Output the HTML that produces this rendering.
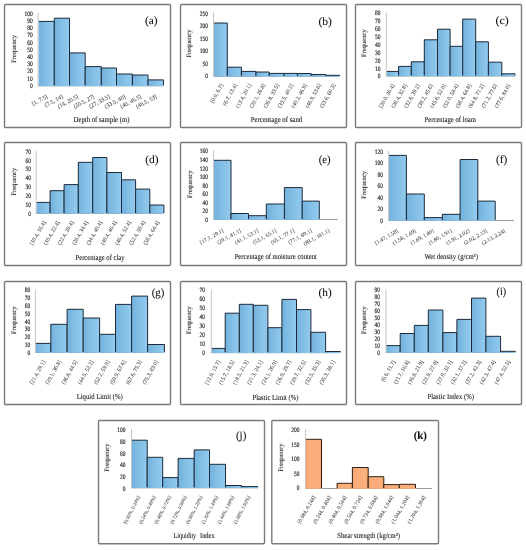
<!DOCTYPE html>
<html><head><meta charset="utf-8"><title>Histograms</title>
<style>
html,body{margin:0;padding:0;background:#fff;}
body{width:526px;height:550px;overflow:hidden;}
svg{display:block;filter:blur(0.3px);}
text{font-family:"Liberation Serif", "Times New Roman", serif;text-rendering:geometricPrecision;}
.yt{font-size:6.7px;fill:#2a2a2a;stroke:#2a2a2a;stroke-width:0.18px;text-anchor:end;}
.xl{fill:#3c3c3c;stroke:#3c3c3c;stroke-width:0.05px;}
.ti{font-size:7.7px;fill:#1a1a1a;stroke:#1a1a1a;stroke-width:0.1px;}
.fr{font-size:6.7px;fill:#333;stroke:#333;stroke-width:0.1px;}
.pl{font-size:11.2px;fill:#111;stroke:#111;stroke-width:0.08px;}
.plb{font-weight:bold;}
</style></head>
<body>
<svg width="526" height="550" viewBox="0 0 526 550">
<rect width="526" height="550" fill="#fff"/>
<defs>
<linearGradient id="gb" x1="0" y1="0" x2="1" y2="0"><stop offset="0" stop-color="#72b2de"/><stop offset="0.5" stop-color="#84bfe5"/><stop offset="0.85" stop-color="#8ec7eb"/><stop offset="1" stop-color="#93cdf0"/></linearGradient>
<linearGradient id="go" x1="0" y1="0" x2="1" y2="0"><stop offset="0" stop-color="#f9a26a"/><stop offset="0.15" stop-color="#fbac7a"/><stop offset="0.85" stop-color="#fbb07e"/><stop offset="1" stop-color="#f8a060"/></linearGradient>
</defs>
<rect x="4.5" y="4.5" width="166" height="123" rx="1" fill="#fff" stroke="#7a7a7a" stroke-width="1.4"/>
<text class="yt" transform="translate(32.8 87.78) scale(0.82 1)">0</text>
<text class="yt" transform="translate(32.8 80.59) scale(0.82 1)">10</text>
<text class="yt" transform="translate(32.8 73.4) scale(0.82 1)">20</text>
<text class="yt" transform="translate(32.8 66.21) scale(0.82 1)">30</text>
<text class="yt" transform="translate(32.8 59.02) scale(0.82 1)">40</text>
<text class="yt" transform="translate(32.8 51.83) scale(0.82 1)">50</text>
<text class="yt" transform="translate(32.8 44.64) scale(0.82 1)">60</text>
<text class="yt" transform="translate(32.8 37.45) scale(0.82 1)">70</text>
<text class="yt" transform="translate(32.8 30.26) scale(0.82 1)">80</text>
<text class="yt" transform="translate(32.8 23.07) scale(0.82 1)">90</text>
<text class="yt" transform="translate(32.8 15.88) scale(0.82 1)">100</text>
<line x1="38.1" y1="85.8" x2="163.5" y2="85.8" stroke="#9a9a9a" stroke-width="1"/>
<rect x="38.6" y="21.4" width="15.7" height="64.7" fill="url(#gb)"/>
<path d="M38.6 21.4H54.3V85.3" fill="none" stroke="#1c2a3a" stroke-width="1"/>
<rect x="54.3" y="18.2" width="15.2" height="67.9" fill="url(#gb)"/>
<path d="M54.3 85.3V18.2H69.5V85.3" fill="none" stroke="#1c2a3a" stroke-width="1"/>
<rect x="69.5" y="52.9" width="15.7" height="33.2" fill="url(#gb)"/>
<path d="M69.5 85.3V52.9H85.2V85.3" fill="none" stroke="#1c2a3a" stroke-width="1"/>
<rect x="85.2" y="66.6" width="16.1" height="19.5" fill="url(#gb)"/>
<path d="M85.2 85.3V66.6H101.3V85.3" fill="none" stroke="#1c2a3a" stroke-width="1"/>
<rect x="101.3" y="68" width="15.2" height="18.1" fill="url(#gb)"/>
<path d="M101.3 85.3V68H116.5V85.3" fill="none" stroke="#1c2a3a" stroke-width="1"/>
<rect x="116.5" y="74" width="15.9" height="12.1" fill="url(#gb)"/>
<path d="M116.5 85.3V74H132.4V85.3" fill="none" stroke="#1c2a3a" stroke-width="1"/>
<rect x="132.4" y="75" width="15.6" height="11.1" fill="url(#gb)"/>
<path d="M132.4 85.3V75H148V85.3" fill="none" stroke="#1c2a3a" stroke-width="1"/>
<rect x="148" y="79.9" width="15.5" height="6.2" fill="url(#gb)"/>
<path d="M148 85.3V79.9H163.5V85.3" fill="none" stroke="#1c2a3a" stroke-width="1"/>
<line x1="38.1" y1="12.5" x2="38.1" y2="86.3" stroke="#c4c4c4" stroke-width="1"/>
<text class="xl" style="font-size:5.8px" text-anchor="end" transform="translate(47.9 97.78) rotate(-28) scale(1.0 1)">[1, 7.5]</text>
<text class="xl" style="font-size:5.8px" text-anchor="end" transform="translate(63.35 97.78) rotate(-28) scale(1.0 1)">(7.5, 14]</text>
<text class="xl" style="font-size:5.8px" text-anchor="end" transform="translate(78.8 97.78) rotate(-28) scale(1.0 1)">(14, 20.5]</text>
<text class="xl" style="font-size:5.8px" text-anchor="end" transform="translate(94.7 97.78) rotate(-28) scale(1.0 1)">(20.5, 27]</text>
<text class="xl" style="font-size:5.8px" text-anchor="end" transform="translate(110.35 97.78) rotate(-28) scale(1.0 1)">(27, 33.5]</text>
<text class="xl" style="font-size:5.8px" text-anchor="end" transform="translate(125.9 97.78) rotate(-28) scale(1.0 1)">(33.5, 40]</text>
<text class="xl" style="font-size:5.8px" text-anchor="end" transform="translate(141.65 97.78) rotate(-28) scale(1.0 1)">(40, 46.5]</text>
<text class="xl" style="font-size:5.8px" text-anchor="end" transform="translate(157.2 97.78) rotate(-28) scale(1.0 1)">(46.5, 53]</text>
<text class="ti" x="73.6" y="122.3" textLength="55.8" lengthAdjust="spacingAndGlyphs">Depth of sample (m)</text>
<text class="fr" text-anchor="middle" transform="translate(15.91 49) rotate(-90)">Frequency</text>
<text class="pl" x="145" y="24.16" textLength="12.6" lengthAdjust="spacingAndGlyphs">(a)</text>
<rect x="180.5" y="4.5" width="166" height="123" rx="1" fill="#fff" stroke="#7a7a7a" stroke-width="1.4"/>
<text class="yt" transform="translate(208.1 78.38) scale(0.82 1)">0</text>
<text class="yt" transform="translate(208.1 65.9) scale(0.82 1)">50</text>
<text class="yt" transform="translate(208.1 53.42) scale(0.82 1)">100</text>
<text class="yt" transform="translate(208.1 40.94) scale(0.82 1)">150</text>
<text class="yt" transform="translate(208.1 28.46) scale(0.82 1)">200</text>
<text class="yt" transform="translate(208.1 15.98) scale(0.82 1)">250</text>
<line x1="213.6" y1="76.3" x2="339.8" y2="76.3" stroke="#9a9a9a" stroke-width="1"/>
<rect x="213.8" y="23" width="13.5" height="53.6" fill="url(#gb)"/>
<path d="M213.8 23H227.3V75.8" fill="none" stroke="#1c2a3a" stroke-width="1"/>
<rect x="227.3" y="67.2" width="14.1" height="9.4" fill="url(#gb)"/>
<path d="M227.3 75.8V67.2H241.4V75.8" fill="none" stroke="#1c2a3a" stroke-width="1"/>
<rect x="241.4" y="71.4" width="14.6" height="5.2" fill="url(#gb)"/>
<path d="M241.4 75.8V71.4H256V75.8" fill="none" stroke="#1c2a3a" stroke-width="1"/>
<rect x="256" y="72" width="13.2" height="4.6" fill="url(#gb)"/>
<path d="M256 75.8V72H269.2V75.8" fill="none" stroke="#1c2a3a" stroke-width="1"/>
<rect x="269.2" y="73.4" width="14.6" height="3.2" fill="url(#gb)"/>
<path d="M269.2 75.8V73.4H283.8V75.8" fill="none" stroke="#1c2a3a" stroke-width="1"/>
<rect x="283.8" y="73.4" width="13.6" height="3.2" fill="url(#gb)"/>
<path d="M283.8 75.8V73.4H297.4V75.8" fill="none" stroke="#1c2a3a" stroke-width="1"/>
<rect x="297.4" y="73.5" width="13.7" height="3.1" fill="url(#gb)"/>
<path d="M297.4 75.8V73.5H311.1V75.8" fill="none" stroke="#1c2a3a" stroke-width="1"/>
<rect x="311.1" y="74.5" width="14.6" height="2.1" fill="url(#gb)"/>
<path d="M311.1 75.8V74.5H325.7V75.8" fill="none" stroke="#1c2a3a" stroke-width="1"/>
<rect x="325.7" y="75.3" width="14.1" height="1.3" fill="url(#gb)"/>
<path d="M325.7 75.8V75.3H339.8V75.8" fill="none" stroke="#1c2a3a" stroke-width="1"/>
<line x1="213.6" y1="12.4" x2="213.6" y2="76.8" stroke="#c4c4c4" stroke-width="1"/>
<text class="xl" style="font-size:5.7px" text-anchor="end" transform="translate(223.44 85.18) rotate(-61) scale(1.0 1)">[0.0, 6.7]</text>
<text class="xl" style="font-size:5.7px" text-anchor="end" transform="translate(237.24 85.18) rotate(-61) scale(1.0 1)">(6.7, 13.4]</text>
<text class="xl" style="font-size:5.7px" text-anchor="end" transform="translate(251.59 85.18) rotate(-61) scale(1.0 1)">(13.4, 20.1]</text>
<text class="xl" style="font-size:5.7px" text-anchor="end" transform="translate(265.49 85.18) rotate(-61) scale(1.0 1)">(20.1, 26.8]</text>
<text class="xl" style="font-size:5.7px" text-anchor="end" transform="translate(279.39 85.18) rotate(-61) scale(1.0 1)">(26.8, 33.5]</text>
<text class="xl" style="font-size:5.7px" text-anchor="end" transform="translate(293.49 85.18) rotate(-61) scale(1.0 1)">(33.5, 40.2]</text>
<text class="xl" style="font-size:5.7px" text-anchor="end" transform="translate(307.14 85.18) rotate(-61) scale(1.0 1)">(40.2, 46.9]</text>
<text class="xl" style="font-size:5.7px" text-anchor="end" transform="translate(321.29 85.18) rotate(-61) scale(1.0 1)">(46.9, 53.6]</text>
<text class="xl" style="font-size:5.7px" text-anchor="end" transform="translate(335.64 85.18) rotate(-61) scale(1.0 1)">(53.6, 60.3]</text>
<text class="ti" x="250.8" y="121.7" textLength="51.4" lengthAdjust="spacingAndGlyphs">Percentage of sand</text>
<text class="fr" text-anchor="middle" transform="translate(191.01 43.5) rotate(-90)">Frequency</text>
<text class="pl" x="318.4" y="24.56" textLength="13.4" lengthAdjust="spacingAndGlyphs">(b)</text>
<rect x="355.5" y="4.5" width="166" height="123" rx="1" fill="#fff" stroke="#7a7a7a" stroke-width="1.4"/>
<text class="yt" transform="translate(380.5 78.38) scale(0.82 1)">0</text>
<text class="yt" transform="translate(380.5 70.5) scale(0.82 1)">10</text>
<text class="yt" transform="translate(380.5 62.63) scale(0.82 1)">20</text>
<text class="yt" transform="translate(380.5 54.75) scale(0.82 1)">30</text>
<text class="yt" transform="translate(380.5 46.88) scale(0.82 1)">40</text>
<text class="yt" transform="translate(380.5 39) scale(0.82 1)">50</text>
<text class="yt" transform="translate(380.5 31.13) scale(0.82 1)">60</text>
<text class="yt" transform="translate(380.5 23.25) scale(0.82 1)">70</text>
<text class="yt" transform="translate(380.5 15.38) scale(0.82 1)">80</text>
<line x1="386.3" y1="76" x2="515" y2="76" stroke="#9a9a9a" stroke-width="1"/>
<rect x="386.5" y="71.4" width="12.1" height="4.9" fill="url(#gb)"/>
<path d="M386.5 71.4H398.6V75.5" fill="none" stroke="#1c2a3a" stroke-width="1"/>
<rect x="398.6" y="66.4" width="12.7" height="9.9" fill="url(#gb)"/>
<path d="M398.6 75.5V66.4H411.3V75.5" fill="none" stroke="#1c2a3a" stroke-width="1"/>
<rect x="411.3" y="61.8" width="13" height="14.5" fill="url(#gb)"/>
<path d="M411.3 75.5V61.8H424.3V75.5" fill="none" stroke="#1c2a3a" stroke-width="1"/>
<rect x="424.3" y="39.8" width="13.2" height="36.5" fill="url(#gb)"/>
<path d="M424.3 75.5V39.8H437.5V75.5" fill="none" stroke="#1c2a3a" stroke-width="1"/>
<rect x="437.5" y="29.2" width="12.6" height="47.1" fill="url(#gb)"/>
<path d="M437.5 75.5V29.2H450.1V75.5" fill="none" stroke="#1c2a3a" stroke-width="1"/>
<rect x="450.1" y="46.3" width="12.6" height="30" fill="url(#gb)"/>
<path d="M450.1 75.5V46.3H462.7V75.5" fill="none" stroke="#1c2a3a" stroke-width="1"/>
<rect x="462.7" y="19.1" width="13" height="57.2" fill="url(#gb)"/>
<path d="M462.7 75.5V19.1H475.7V75.5" fill="none" stroke="#1c2a3a" stroke-width="1"/>
<rect x="475.7" y="41.8" width="12.7" height="34.5" fill="url(#gb)"/>
<path d="M475.7 75.5V41.8H488.4V75.5" fill="none" stroke="#1c2a3a" stroke-width="1"/>
<rect x="488.4" y="62.2" width="13.4" height="14.1" fill="url(#gb)"/>
<path d="M488.4 75.5V62.2H501.8V75.5" fill="none" stroke="#1c2a3a" stroke-width="1"/>
<rect x="501.8" y="73.8" width="13.2" height="2.5" fill="url(#gb)"/>
<path d="M501.8 75.5V73.8H515V75.5" fill="none" stroke="#1c2a3a" stroke-width="1"/>
<line x1="386.3" y1="12.8" x2="386.3" y2="76.5" stroke="#c4c4c4" stroke-width="1"/>
<text class="xl" style="font-size:5.7px" text-anchor="end" transform="translate(394.74 85.28) rotate(-61) scale(1.0 1)">[20.0, 26.4]</text>
<text class="xl" style="font-size:5.7px" text-anchor="end" transform="translate(407.14 85.28) rotate(-61) scale(1.0 1)">(26.4, 32.8]</text>
<text class="xl" style="font-size:5.7px" text-anchor="end" transform="translate(419.99 85.28) rotate(-61) scale(1.0 1)">(32.8, 39.2]</text>
<text class="xl" style="font-size:5.7px" text-anchor="end" transform="translate(433.09 85.28) rotate(-61) scale(1.0 1)">(39.2, 45.6]</text>
<text class="xl" style="font-size:5.7px" text-anchor="end" transform="translate(445.99 85.28) rotate(-61) scale(1.0 1)">(45.6, 52.0]</text>
<text class="xl" style="font-size:5.7px" text-anchor="end" transform="translate(458.59 85.28) rotate(-61) scale(1.0 1)">(52.0, 58.4]</text>
<text class="xl" style="font-size:5.7px" text-anchor="end" transform="translate(471.39 85.28) rotate(-61) scale(1.0 1)">(58.4, 64.8]</text>
<text class="xl" style="font-size:5.7px" text-anchor="end" transform="translate(484.24 85.28) rotate(-61) scale(1.0 1)">(64.8, 71.2]</text>
<text class="xl" style="font-size:5.7px" text-anchor="end" transform="translate(497.29 85.28) rotate(-61) scale(1.0 1)">(71.2, 77.6]</text>
<text class="xl" style="font-size:5.7px" text-anchor="end" transform="translate(510.59 85.28) rotate(-61) scale(1.0 1)">(77.6, 84.0]</text>
<text class="ti" x="424.6" y="122.3" textLength="51.3" lengthAdjust="spacingAndGlyphs">Percentage of loam</text>
<text class="fr" text-anchor="middle" transform="translate(366.01 43.2) rotate(-90)">Frequency</text>
<text class="pl" x="495.6" y="24.36" textLength="13.2" lengthAdjust="spacingAndGlyphs">(c)</text>
<rect x="4.5" y="142.5" width="166" height="123" rx="1" fill="#fff" stroke="#7a7a7a" stroke-width="1.4"/>
<text class="yt" transform="translate(31.1 215.88) scale(0.82 1)">0</text>
<text class="yt" transform="translate(31.1 206.99) scale(0.82 1)">10</text>
<text class="yt" transform="translate(31.1 198.11) scale(0.82 1)">20</text>
<text class="yt" transform="translate(31.1 189.22) scale(0.82 1)">30</text>
<text class="yt" transform="translate(31.1 180.34) scale(0.82 1)">40</text>
<text class="yt" transform="translate(31.1 171.45) scale(0.82 1)">50</text>
<text class="yt" transform="translate(31.1 162.56) scale(0.82 1)">60</text>
<text class="yt" transform="translate(31.1 153.68) scale(0.82 1)">70</text>
<line x1="36.2" y1="213.5" x2="163.9" y2="213.5" stroke="#9a9a9a" stroke-width="1"/>
<rect x="36.4" y="202.4" width="13.7" height="11.4" fill="url(#gb)"/>
<path d="M36.4 202.4H50.1V213" fill="none" stroke="#1c2a3a" stroke-width="1"/>
<rect x="50.1" y="190.7" width="14" height="23.1" fill="url(#gb)"/>
<path d="M50.1 213V190.7H64.1V213" fill="none" stroke="#1c2a3a" stroke-width="1"/>
<rect x="64.1" y="184.6" width="14.2" height="29.2" fill="url(#gb)"/>
<path d="M64.1 213V184.6H78.3V213" fill="none" stroke="#1c2a3a" stroke-width="1"/>
<rect x="78.3" y="162.3" width="14.4" height="51.5" fill="url(#gb)"/>
<path d="M78.3 213V162.3H92.7V213" fill="none" stroke="#1c2a3a" stroke-width="1"/>
<rect x="92.7" y="157.5" width="14.2" height="56.3" fill="url(#gb)"/>
<path d="M92.7 213V157.5H106.9V213" fill="none" stroke="#1c2a3a" stroke-width="1"/>
<rect x="106.9" y="172.5" width="14.6" height="41.3" fill="url(#gb)"/>
<path d="M106.9 213V172.5H121.5V213" fill="none" stroke="#1c2a3a" stroke-width="1"/>
<rect x="121.5" y="179.8" width="14.1" height="34" fill="url(#gb)"/>
<path d="M121.5 213V179.8H135.6V213" fill="none" stroke="#1c2a3a" stroke-width="1"/>
<rect x="135.6" y="189.1" width="14.2" height="24.7" fill="url(#gb)"/>
<path d="M135.6 213V189.1H149.8V213" fill="none" stroke="#1c2a3a" stroke-width="1"/>
<rect x="149.8" y="205" width="14.1" height="8.8" fill="url(#gb)"/>
<path d="M149.8 213V205H163.9V213" fill="none" stroke="#1c2a3a" stroke-width="1"/>
<line x1="36.2" y1="151.1" x2="36.2" y2="214" stroke="#c4c4c4" stroke-width="1"/>
<text class="xl" style="font-size:5.7px" text-anchor="end" transform="translate(45.91 222.44) rotate(-60) scale(1.0 1)">[10.4, 16.4]</text>
<text class="xl" style="font-size:5.7px" text-anchor="end" transform="translate(59.76 222.44) rotate(-60) scale(1.0 1)">(16.4, 22.4]</text>
<text class="xl" style="font-size:5.7px" text-anchor="end" transform="translate(73.86 222.44) rotate(-60) scale(1.0 1)">(22.4, 28.4]</text>
<text class="xl" style="font-size:5.7px" text-anchor="end" transform="translate(88.16 222.44) rotate(-60) scale(1.0 1)">(28.4, 34.4]</text>
<text class="xl" style="font-size:5.7px" text-anchor="end" transform="translate(102.46 222.44) rotate(-60) scale(1.0 1)">(34.4, 40.4]</text>
<text class="xl" style="font-size:5.7px" text-anchor="end" transform="translate(116.86 222.44) rotate(-60) scale(1.0 1)">(40.4, 46.4]</text>
<text class="xl" style="font-size:5.7px" text-anchor="end" transform="translate(131.21 222.44) rotate(-60) scale(1.0 1)">(46.4, 52.4]</text>
<text class="xl" style="font-size:5.7px" text-anchor="end" transform="translate(145.36 222.44) rotate(-60) scale(1.0 1)">(52.4, 58.4]</text>
<text class="xl" style="font-size:5.7px" text-anchor="end" transform="translate(159.51 222.44) rotate(-60) scale(1.0 1)">(58.4, 64.4]</text>
<text class="ti" x="75.5" y="259.8" textLength="49.1" lengthAdjust="spacingAndGlyphs">Percentage of clay</text>
<text class="fr" text-anchor="middle" transform="translate(15.51 181.7) rotate(-90)">Frequency</text>
<text class="pl" x="145.3" y="162.66" textLength="13.3" lengthAdjust="spacingAndGlyphs">(d)</text>
<rect x="180.5" y="142.5" width="166" height="123" rx="1" fill="#fff" stroke="#7a7a7a" stroke-width="1.4"/>
<text class="yt" transform="translate(208.1 221.68) scale(0.82 1)">0</text>
<text class="yt" transform="translate(208.1 213.15) scale(0.82 1)">20</text>
<text class="yt" transform="translate(208.1 204.63) scale(0.82 1)">40</text>
<text class="yt" transform="translate(208.1 196.1) scale(0.82 1)">60</text>
<text class="yt" transform="translate(208.1 187.58) scale(0.82 1)">80</text>
<text class="yt" transform="translate(208.1 179.05) scale(0.82 1)">100</text>
<text class="yt" transform="translate(208.1 170.53) scale(0.82 1)">120</text>
<text class="yt" transform="translate(208.1 162) scale(0.82 1)">140</text>
<text class="yt" transform="translate(208.1 153.48) scale(0.82 1)">160</text>
<line x1="213.6" y1="219.5" x2="337.7" y2="219.5" stroke="#9a9a9a" stroke-width="1"/>
<rect x="213.8" y="160.3" width="17.2" height="59.5" fill="url(#gb)"/>
<path d="M213.8 160.3H231V219" fill="none" stroke="#1c2a3a" stroke-width="1"/>
<rect x="231" y="213.5" width="17.5" height="6.3" fill="url(#gb)"/>
<path d="M231 219V213.5H248.5V219" fill="none" stroke="#1c2a3a" stroke-width="1"/>
<rect x="248.5" y="215.7" width="17.8" height="4.1" fill="url(#gb)"/>
<path d="M248.5 219V215.7H266.3V219" fill="none" stroke="#1c2a3a" stroke-width="1"/>
<rect x="266.3" y="204" width="18.1" height="15.8" fill="url(#gb)"/>
<path d="M266.3 219V204H284.4V219" fill="none" stroke="#1c2a3a" stroke-width="1"/>
<rect x="284.4" y="187.6" width="17.8" height="32.2" fill="url(#gb)"/>
<path d="M284.4 219V187.6H302.2V219" fill="none" stroke="#1c2a3a" stroke-width="1"/>
<rect x="302.2" y="201.1" width="17.1" height="18.7" fill="url(#gb)"/>
<path d="M302.2 219V201.1H319.3V219" fill="none" stroke="#1c2a3a" stroke-width="1"/>
<line x1="213.6" y1="150.4" x2="213.6" y2="220" stroke="#c4c4c4" stroke-width="1"/>
<text class="xl" style="font-size:5.6px" text-anchor="end" transform="translate(223.95 231.73) rotate(-29) scale(1.0 1)">[17.1, 29.1]</text>
<text class="xl" style="font-size:5.6px" text-anchor="end" transform="translate(241.3 231.73) rotate(-29) scale(1.0 1)">(29.1, 41.1]</text>
<text class="xl" style="font-size:5.6px" text-anchor="end" transform="translate(258.95 231.73) rotate(-29) scale(1.0 1)">(41.1, 53.1]</text>
<text class="xl" style="font-size:5.6px" text-anchor="end" transform="translate(276.9 231.73) rotate(-29) scale(1.0 1)">(53.1, 65.1]</text>
<text class="xl" style="font-size:5.6px" text-anchor="end" transform="translate(294.85 231.73) rotate(-29) scale(1.0 1)">(65.1, 77.1]</text>
<text class="xl" style="font-size:5.6px" text-anchor="end" transform="translate(312.3 231.73) rotate(-29) scale(1.0 1)">(77.1, 89.1]</text>
<text class="xl" style="font-size:5.6px" text-anchor="end" transform="translate(330.05 231.73) rotate(-29) scale(1.0 1)">(89.1, 101.1]</text>
<text class="ti" x="234.7" y="259.3" textLength="82.2" lengthAdjust="spacingAndGlyphs">Percentage of moisture content</text>
<text class="fr" text-anchor="middle" transform="translate(191.51 184.2) rotate(-90)">Frequency</text>
<text class="pl" x="318.7" y="163.16" textLength="12" lengthAdjust="spacingAndGlyphs">(e)</text>
<rect x="355.5" y="142.5" width="166" height="123" rx="1" fill="#fff" stroke="#7a7a7a" stroke-width="1.4"/>
<text class="yt" transform="translate(383.1 222.68) scale(0.82 1)">0</text>
<text class="yt" transform="translate(383.1 211.19) scale(0.82 1)">20</text>
<text class="yt" transform="translate(383.1 199.71) scale(0.82 1)">40</text>
<text class="yt" transform="translate(383.1 188.23) scale(0.82 1)">60</text>
<text class="yt" transform="translate(383.1 176.74) scale(0.82 1)">80</text>
<text class="yt" transform="translate(383.1 165.26) scale(0.82 1)">100</text>
<text class="yt" transform="translate(383.1 153.78) scale(0.82 1)">120</text>
<line x1="388.6" y1="220.5" x2="514" y2="220.5" stroke="#9a9a9a" stroke-width="1"/>
<rect x="388.8" y="155.4" width="17.6" height="65.4" fill="url(#gb)"/>
<path d="M388.8 155.4H406.4V220" fill="none" stroke="#1c2a3a" stroke-width="1"/>
<rect x="406.4" y="194" width="17.9" height="26.8" fill="url(#gb)"/>
<path d="M406.4 220V194H424.3V220" fill="none" stroke="#1c2a3a" stroke-width="1"/>
<rect x="424.3" y="217.6" width="18" height="3.2" fill="url(#gb)"/>
<path d="M424.3 220V217.6H442.3V220" fill="none" stroke="#1c2a3a" stroke-width="1"/>
<rect x="442.3" y="214.3" width="17.8" height="6.5" fill="url(#gb)"/>
<path d="M442.3 220V214.3H460.1V220" fill="none" stroke="#1c2a3a" stroke-width="1"/>
<rect x="460.1" y="159.5" width="17.7" height="61.3" fill="url(#gb)"/>
<path d="M460.1 220V159.5H477.8V220" fill="none" stroke="#1c2a3a" stroke-width="1"/>
<rect x="477.8" y="201.1" width="17.4" height="19.7" fill="url(#gb)"/>
<path d="M477.8 220V201.1H495.2V220" fill="none" stroke="#1c2a3a" stroke-width="1"/>
<line x1="388.6" y1="150.8" x2="388.6" y2="221" stroke="#c4c4c4" stroke-width="1"/>
<text class="xl" style="font-size:5.6px" text-anchor="end" transform="translate(398.7 231.9) rotate(-30) scale(1.0 1)">[1.47, 1.58]</text>
<text class="xl" style="font-size:5.6px" text-anchor="end" transform="translate(416.45 231.9) rotate(-30) scale(1.0 1)">(1.58, 1.69]</text>
<text class="xl" style="font-size:5.6px" text-anchor="end" transform="translate(434.4 231.9) rotate(-30) scale(1.0 1)">(1.69, 1.80]</text>
<text class="xl" style="font-size:5.6px" text-anchor="end" transform="translate(452.3 231.9) rotate(-30) scale(1.0 1)">(1.80, 1.91]</text>
<text class="xl" style="font-size:5.6px" text-anchor="end" transform="translate(470.05 231.9) rotate(-30) scale(1.0 1)">(1.91, 2.02]</text>
<text class="xl" style="font-size:5.6px" text-anchor="end" transform="translate(487.6 231.9) rotate(-30) scale(1.0 1)">(2.02, 2.13]</text>
<text class="xl" style="font-size:5.6px" text-anchor="end" transform="translate(505.7 231.9) rotate(-30) scale(1.0 1)">(2.13, 2.24]</text>
<text class="ti" x="424.4" y="259" textLength="53.5" lengthAdjust="spacingAndGlyphs">Wet density  (g/cm³)</text>
<text class="fr" text-anchor="middle" transform="translate(366.01 184.9) rotate(-90)">Frequency</text>
<text class="pl" x="496" y="162.76" textLength="11.3" lengthAdjust="spacingAndGlyphs">(f)</text>
<rect x="4.5" y="281.5" width="166" height="123" rx="1" fill="#fff" stroke="#7a7a7a" stroke-width="1.4"/>
<text class="yt" transform="translate(30.2 354.88) scale(0.82 1)">0</text>
<text class="yt" transform="translate(30.2 347.07) scale(0.82 1)">10</text>
<text class="yt" transform="translate(30.2 339.25) scale(0.82 1)">20</text>
<text class="yt" transform="translate(30.2 331.44) scale(0.82 1)">30</text>
<text class="yt" transform="translate(30.2 323.63) scale(0.82 1)">40</text>
<text class="yt" transform="translate(30.2 315.82) scale(0.82 1)">50</text>
<text class="yt" transform="translate(30.2 308) scale(0.82 1)">60</text>
<text class="yt" transform="translate(30.2 300.19) scale(0.82 1)">70</text>
<text class="yt" transform="translate(30.2 292.38) scale(0.82 1)">80</text>
<line x1="35.4" y1="352.5" x2="164.4" y2="352.5" stroke="#9a9a9a" stroke-width="1"/>
<rect x="35.6" y="343.4" width="15.2" height="9.4" fill="url(#gb)"/>
<path d="M35.6 343.4H50.8V352" fill="none" stroke="#1c2a3a" stroke-width="1"/>
<rect x="50.8" y="324.3" width="16.3" height="28.5" fill="url(#gb)"/>
<path d="M50.8 352V324.3H67.1V352" fill="none" stroke="#1c2a3a" stroke-width="1"/>
<rect x="67.1" y="309.3" width="16.1" height="43.5" fill="url(#gb)"/>
<path d="M67.1 352V309.3H83.2V352" fill="none" stroke="#1c2a3a" stroke-width="1"/>
<rect x="83.2" y="318" width="16.4" height="34.8" fill="url(#gb)"/>
<path d="M83.2 352V318H99.6V352" fill="none" stroke="#1c2a3a" stroke-width="1"/>
<rect x="99.6" y="334.3" width="15.9" height="18.5" fill="url(#gb)"/>
<path d="M99.6 352V334.3H115.5V352" fill="none" stroke="#1c2a3a" stroke-width="1"/>
<rect x="115.5" y="304.4" width="16.1" height="48.4" fill="url(#gb)"/>
<path d="M115.5 352V304.4H131.6V352" fill="none" stroke="#1c2a3a" stroke-width="1"/>
<rect x="131.6" y="296.1" width="16" height="56.7" fill="url(#gb)"/>
<path d="M131.6 352V296.1H147.6V352" fill="none" stroke="#1c2a3a" stroke-width="1"/>
<rect x="147.6" y="344.5" width="16.8" height="8.3" fill="url(#gb)"/>
<path d="M147.6 352V344.5H164.4V352" fill="none" stroke="#1c2a3a" stroke-width="1"/>
<line x1="35.4" y1="289.8" x2="35.4" y2="353" stroke="#c4c4c4" stroke-width="1"/>
<text class="xl" style="font-size:5.7px" text-anchor="end" transform="translate(45.49 361.58) rotate(-61) scale(1.0 1)">[21.4, 29.1]</text>
<text class="xl" style="font-size:5.7px" text-anchor="end" transform="translate(61.24 361.58) rotate(-61) scale(1.0 1)">(29.1, 36.8]</text>
<text class="xl" style="font-size:5.7px" text-anchor="end" transform="translate(77.44 361.58) rotate(-61) scale(1.0 1)">(36.8, 44.5]</text>
<text class="xl" style="font-size:5.7px" text-anchor="end" transform="translate(93.69 361.58) rotate(-61) scale(1.0 1)">(44.5, 52.2]</text>
<text class="xl" style="font-size:5.7px" text-anchor="end" transform="translate(109.84 361.58) rotate(-61) scale(1.0 1)">(52.2, 59.9]</text>
<text class="xl" style="font-size:5.7px" text-anchor="end" transform="translate(125.84 361.58) rotate(-61) scale(1.0 1)">(59.9, 67.6]</text>
<text class="xl" style="font-size:5.7px" text-anchor="end" transform="translate(141.89 361.58) rotate(-61) scale(1.0 1)">(67.6, 75.3]</text>
<text class="xl" style="font-size:5.7px" text-anchor="end" transform="translate(158.29 361.58) rotate(-61) scale(1.0 1)">(75.3, 83.0]</text>
<text class="ti" x="76.7" y="399.3" textLength="46" lengthAdjust="spacingAndGlyphs">Liquid  Limit  (%)</text>
<text class="fr" text-anchor="middle" transform="translate(15.51 320.2) rotate(-90)">Frequency</text>
<text class="pl" x="151.7" y="296.16" textLength="12.7" lengthAdjust="spacingAndGlyphs">(g)</text>
<rect x="180.5" y="281.5" width="166" height="123" rx="1" fill="#fff" stroke="#7a7a7a" stroke-width="1.4"/>
<text class="yt" transform="translate(205.1 355.18) scale(0.82 1)">0</text>
<text class="yt" transform="translate(205.1 346.22) scale(0.82 1)">10</text>
<text class="yt" transform="translate(205.1 337.26) scale(0.82 1)">20</text>
<text class="yt" transform="translate(205.1 328.31) scale(0.82 1)">30</text>
<text class="yt" transform="translate(205.1 319.35) scale(0.82 1)">40</text>
<text class="yt" transform="translate(205.1 310.39) scale(0.82 1)">50</text>
<text class="yt" transform="translate(205.1 301.44) scale(0.82 1)">60</text>
<text class="yt" transform="translate(205.1 292.48) scale(0.82 1)">70</text>
<line x1="211.3" y1="352.7" x2="340.4" y2="352.7" stroke="#9a9a9a" stroke-width="1"/>
<rect x="211.5" y="348.4" width="13.7" height="4.6" fill="url(#gb)"/>
<path d="M211.5 348.4H225.2V352.2" fill="none" stroke="#1c2a3a" stroke-width="1"/>
<rect x="225.2" y="313.2" width="14.1" height="39.8" fill="url(#gb)"/>
<path d="M225.2 352.2V313.2H239.3V352.2" fill="none" stroke="#1c2a3a" stroke-width="1"/>
<rect x="239.3" y="304.3" width="14" height="48.7" fill="url(#gb)"/>
<path d="M239.3 352.2V304.3H253.3V352.2" fill="none" stroke="#1c2a3a" stroke-width="1"/>
<rect x="253.3" y="305.3" width="14.6" height="47.7" fill="url(#gb)"/>
<path d="M253.3 352.2V305.3H267.9V352.2" fill="none" stroke="#1c2a3a" stroke-width="1"/>
<rect x="267.9" y="327.7" width="14" height="25.3" fill="url(#gb)"/>
<path d="M267.9 352.2V327.7H281.9V352.2" fill="none" stroke="#1c2a3a" stroke-width="1"/>
<rect x="281.9" y="299.4" width="14.6" height="53.6" fill="url(#gb)"/>
<path d="M281.9 352.2V299.4H296.5V352.2" fill="none" stroke="#1c2a3a" stroke-width="1"/>
<rect x="296.5" y="309.6" width="14.4" height="43.4" fill="url(#gb)"/>
<path d="M296.5 352.2V309.6H310.9V352.2" fill="none" stroke="#1c2a3a" stroke-width="1"/>
<rect x="310.9" y="332.3" width="14.7" height="20.7" fill="url(#gb)"/>
<path d="M310.9 352.2V332.3H325.6V352.2" fill="none" stroke="#1c2a3a" stroke-width="1"/>
<rect x="325.6" y="351.5" width="14.8" height="1.5" fill="url(#gb)"/>
<path d="M325.6 352.2V351.5H340.4V352.2" fill="none" stroke="#1c2a3a" stroke-width="1"/>
<line x1="211.3" y1="289.8" x2="211.3" y2="353.2" stroke="#c4c4c4" stroke-width="1"/>
<text class="xl" style="font-size:5.7px" text-anchor="end" transform="translate(220.64 361.68) rotate(-61) scale(1.0 1)">[12.9, 15.7]</text>
<text class="xl" style="font-size:5.7px" text-anchor="end" transform="translate(234.54 361.68) rotate(-61) scale(1.0 1)">(15.7, 18.5]</text>
<text class="xl" style="font-size:5.7px" text-anchor="end" transform="translate(248.59 361.68) rotate(-61) scale(1.0 1)">(18.5, 21.3]</text>
<text class="xl" style="font-size:5.7px" text-anchor="end" transform="translate(262.89 361.68) rotate(-61) scale(1.0 1)">(21.3, 24.1]</text>
<text class="xl" style="font-size:5.7px" text-anchor="end" transform="translate(277.19 361.68) rotate(-61) scale(1.0 1)">(24.1, 26.9]</text>
<text class="xl" style="font-size:5.7px" text-anchor="end" transform="translate(291.49 361.68) rotate(-61) scale(1.0 1)">(26.9, 29.7]</text>
<text class="xl" style="font-size:5.7px" text-anchor="end" transform="translate(305.99 361.68) rotate(-61) scale(1.0 1)">(29.7, 32.5]</text>
<text class="xl" style="font-size:5.7px" text-anchor="end" transform="translate(320.54 361.68) rotate(-61) scale(1.0 1)">(32.5, 35.3]</text>
<text class="xl" style="font-size:5.7px" text-anchor="end" transform="translate(335.29 361.68) rotate(-61) scale(1.0 1)">(35.3, 38.1]</text>
<text class="ti" x="252.5" y="399.5" textLength="46.1" lengthAdjust="spacingAndGlyphs">Plastic Limit  (%)</text>
<text class="fr" text-anchor="middle" transform="translate(191.01 320.2) rotate(-90)">Frequency</text>
<text class="pl" x="318.6" y="295.86" textLength="13.1" lengthAdjust="spacingAndGlyphs">(h)</text>
<rect x="355.5" y="281.5" width="166" height="123" rx="1" fill="#fff" stroke="#7a7a7a" stroke-width="1.4"/>
<text class="yt" transform="translate(380.1 354.88) scale(0.82 1)">0</text>
<text class="yt" transform="translate(380.1 347.91) scale(0.82 1)">10</text>
<text class="yt" transform="translate(380.1 340.94) scale(0.82 1)">20</text>
<text class="yt" transform="translate(380.1 333.98) scale(0.82 1)">30</text>
<text class="yt" transform="translate(380.1 327.01) scale(0.82 1)">40</text>
<text class="yt" transform="translate(380.1 320.04) scale(0.82 1)">50</text>
<text class="yt" transform="translate(380.1 313.08) scale(0.82 1)">60</text>
<text class="yt" transform="translate(380.1 306.11) scale(0.82 1)">70</text>
<text class="yt" transform="translate(380.1 299.14) scale(0.82 1)">80</text>
<text class="yt" transform="translate(380.1 292.18) scale(0.82 1)">90</text>
<line x1="386" y1="352.5" x2="515.4" y2="352.5" stroke="#9a9a9a" stroke-width="1"/>
<rect x="386.2" y="345.6" width="14" height="7.2" fill="url(#gb)"/>
<path d="M386.2 345.6H400.2V352" fill="none" stroke="#1c2a3a" stroke-width="1"/>
<rect x="400.2" y="333.5" width="14.1" height="19.3" fill="url(#gb)"/>
<path d="M400.2 352V333.5H414.3V352" fill="none" stroke="#1c2a3a" stroke-width="1"/>
<rect x="414.3" y="325.4" width="14" height="27.4" fill="url(#gb)"/>
<path d="M414.3 352V325.4H428.3V352" fill="none" stroke="#1c2a3a" stroke-width="1"/>
<rect x="428.3" y="310" width="14.6" height="42.8" fill="url(#gb)"/>
<path d="M428.3 352V310H442.9V352" fill="none" stroke="#1c2a3a" stroke-width="1"/>
<rect x="442.9" y="332.6" width="14" height="20.2" fill="url(#gb)"/>
<path d="M442.9 352V332.6H456.9V352" fill="none" stroke="#1c2a3a" stroke-width="1"/>
<rect x="456.9" y="319.4" width="14.6" height="33.4" fill="url(#gb)"/>
<path d="M456.9 352V319.4H471.5V352" fill="none" stroke="#1c2a3a" stroke-width="1"/>
<rect x="471.5" y="298.1" width="14.4" height="54.7" fill="url(#gb)"/>
<path d="M471.5 352V298.1H485.9V352" fill="none" stroke="#1c2a3a" stroke-width="1"/>
<rect x="485.9" y="336.3" width="14.7" height="16.5" fill="url(#gb)"/>
<path d="M485.9 352V336.3H500.6V352" fill="none" stroke="#1c2a3a" stroke-width="1"/>
<rect x="500.6" y="351.3" width="14.8" height="1.5" fill="url(#gb)"/>
<path d="M500.6 352V351.3H515.4V352" fill="none" stroke="#1c2a3a" stroke-width="1"/>
<line x1="386" y1="289.4" x2="386" y2="353" stroke="#c4c4c4" stroke-width="1"/>
<text class="xl" style="font-size:5.7px" text-anchor="end" transform="translate(395.66 361.74) rotate(-60) scale(1.0 1)">[6.6, 11.7]</text>
<text class="xl" style="font-size:5.7px" text-anchor="end" transform="translate(409.71 361.74) rotate(-60) scale(1.0 1)">(11.7, 16.8]</text>
<text class="xl" style="font-size:5.7px" text-anchor="end" transform="translate(423.76 361.74) rotate(-60) scale(1.0 1)">(16.8, 21.9]</text>
<text class="xl" style="font-size:5.7px" text-anchor="end" transform="translate(438.06 361.74) rotate(-60) scale(1.0 1)">(21.9, 27.0]</text>
<text class="xl" style="font-size:5.7px" text-anchor="end" transform="translate(452.36 361.74) rotate(-60) scale(1.0 1)">(27.0, 32.1]</text>
<text class="xl" style="font-size:5.7px" text-anchor="end" transform="translate(466.66 361.74) rotate(-60) scale(1.0 1)">(32.1, 37.2]</text>
<text class="xl" style="font-size:5.7px" text-anchor="end" transform="translate(481.16 361.74) rotate(-60) scale(1.0 1)">(37.2, 42.3]</text>
<text class="xl" style="font-size:5.7px" text-anchor="end" transform="translate(495.71 361.74) rotate(-60) scale(1.0 1)">(42.3, 47.4]</text>
<text class="xl" style="font-size:5.7px" text-anchor="end" transform="translate(510.46 361.74) rotate(-60) scale(1.0 1)">(47.4, 52.5]</text>
<text class="ti" x="427.5" y="398.7" textLength="46.5" lengthAdjust="spacingAndGlyphs">Plastic Index (%)</text>
<text class="fr" text-anchor="middle" transform="translate(366.01 320.2) rotate(-90)">Frequency</text>
<text class="pl" x="496.5" y="295.36" textLength="9.6" lengthAdjust="spacingAndGlyphs">(i)</text>
<rect x="98.5" y="420.5" width="166" height="123.3" rx="1" fill="#fff" stroke="#7a7a7a" stroke-width="1.4"/>
<text class="yt" transform="translate(125.6 490.58) scale(0.82 1)">0</text>
<text class="yt" transform="translate(125.6 478.92) scale(0.82 1)">20</text>
<text class="yt" transform="translate(125.6 467.26) scale(0.82 1)">40</text>
<text class="yt" transform="translate(125.6 455.6) scale(0.82 1)">60</text>
<text class="yt" transform="translate(125.6 443.94) scale(0.82 1)">80</text>
<text class="yt" transform="translate(125.6 432.28) scale(0.82 1)">100</text>
<line x1="131.5" y1="487.8" x2="257.8" y2="487.8" stroke="#9a9a9a" stroke-width="1"/>
<rect x="131.7" y="440.2" width="15.5" height="47.9" fill="url(#gb)"/>
<path d="M131.7 440.2H147.2V487.3" fill="none" stroke="#1c2a3a" stroke-width="1"/>
<rect x="147.2" y="457.3" width="15.5" height="30.8" fill="url(#gb)"/>
<path d="M147.2 487.3V457.3H162.7V487.3" fill="none" stroke="#1c2a3a" stroke-width="1"/>
<rect x="162.7" y="477.6" width="15.4" height="10.5" fill="url(#gb)"/>
<path d="M162.7 487.3V477.6H178.1V487.3" fill="none" stroke="#1c2a3a" stroke-width="1"/>
<rect x="178.1" y="458.4" width="16.1" height="29.7" fill="url(#gb)"/>
<path d="M178.1 487.3V458.4H194.2V487.3" fill="none" stroke="#1c2a3a" stroke-width="1"/>
<rect x="194.2" y="449.9" width="15.3" height="38.2" fill="url(#gb)"/>
<path d="M194.2 487.3V449.9H209.5V487.3" fill="none" stroke="#1c2a3a" stroke-width="1"/>
<rect x="209.5" y="464.3" width="16" height="23.8" fill="url(#gb)"/>
<path d="M209.5 487.3V464.3H225.5V487.3" fill="none" stroke="#1c2a3a" stroke-width="1"/>
<rect x="225.5" y="485.5" width="15.9" height="2.6" fill="url(#gb)"/>
<path d="M225.5 487.3V485.5H241.4V487.3" fill="none" stroke="#1c2a3a" stroke-width="1"/>
<rect x="241.4" y="486.6" width="16.4" height="1.5" fill="url(#gb)"/>
<path d="M241.4 487.3V486.6H257.8V487.3" fill="none" stroke="#1c2a3a" stroke-width="1"/>
<line x1="131.5" y1="429.1" x2="131.5" y2="488.3" stroke="#c4c4c4" stroke-width="1"/>
<text class="xl" style="font-size:4.9px" text-anchor="end" transform="translate(140.22 496.71) rotate(-63) scale(1.0 1)">[0.00%, 0.24%]</text>
<text class="xl" style="font-size:4.9px" text-anchor="end" transform="translate(155.72 496.71) rotate(-63) scale(1.0 1)">(0.24%, 0.48%]</text>
<text class="xl" style="font-size:4.9px" text-anchor="end" transform="translate(171.17 496.71) rotate(-63) scale(1.0 1)">(0.48%, 0.72%]</text>
<text class="xl" style="font-size:4.9px" text-anchor="end" transform="translate(186.92 496.71) rotate(-63) scale(1.0 1)">(0.72%, 0.96%]</text>
<text class="xl" style="font-size:4.9px" text-anchor="end" transform="translate(202.62 496.71) rotate(-63) scale(1.0 1)">(0.96%, 1.20%]</text>
<text class="xl" style="font-size:4.9px" text-anchor="end" transform="translate(218.27 496.71) rotate(-63) scale(1.0 1)">(1.20%, 1.44%]</text>
<text class="xl" style="font-size:4.9px" text-anchor="end" transform="translate(234.22 496.71) rotate(-63) scale(1.0 1)">(1.44%, 1.68%]</text>
<text class="xl" style="font-size:4.9px" text-anchor="end" transform="translate(250.37 496.71) rotate(-63) scale(1.0 1)">(1.68%, 1.92%]</text>
<text class="ti" x="173.6" y="538" textLength="22.5" lengthAdjust="spacingAndGlyphs">Liquidity</text>
<text class="ti" x="200" y="538" textLength="14.7" lengthAdjust="spacingAndGlyphs">Index</text>
<text class="fr" text-anchor="middle" transform="translate(108.51 457.6) rotate(-90)">Frequency</text>
<text class="pl" x="235.9" y="438.96" textLength="10.5" lengthAdjust="spacingAndGlyphs">(j)</text>
<rect x="271.8" y="420.5" width="166.7" height="123.3" rx="1" fill="#fff" stroke="#7a7a7a" stroke-width="1.4"/>
<text class="yt" transform="translate(299.6 490.38) scale(0.82 1)">0</text>
<text class="yt" transform="translate(299.6 475.85) scale(0.82 1)">50</text>
<text class="yt" transform="translate(299.6 461.33) scale(0.82 1)">100</text>
<text class="yt" transform="translate(299.6 446.8) scale(0.82 1)">150</text>
<text class="yt" transform="translate(299.6 432.28) scale(0.82 1)">200</text>
<line x1="305.5" y1="488.5" x2="431.9" y2="488.5" stroke="#9a9a9a" stroke-width="1"/>
<rect x="305.7" y="439.3" width="15.8" height="49.5" fill="url(#go)"/>
<path d="M305.7 439.3H321.5V488" fill="none" stroke="#2e2218" stroke-width="1"/>
<rect x="337.1" y="483.3" width="15.3" height="5.5" fill="url(#go)"/>
<path d="M337.1 488V483.3H352.4V488" fill="none" stroke="#2e2218" stroke-width="1"/>
<rect x="352.4" y="467.5" width="15.8" height="21.3" fill="url(#go)"/>
<path d="M352.4 488V467.5H368.2V488" fill="none" stroke="#2e2218" stroke-width="1"/>
<rect x="368.2" y="476.7" width="15.6" height="12.1" fill="url(#go)"/>
<path d="M368.2 488V476.7H383.8V488" fill="none" stroke="#2e2218" stroke-width="1"/>
<rect x="383.8" y="484.6" width="15.5" height="4.2" fill="url(#go)"/>
<path d="M383.8 488V484.6H399.3V488" fill="none" stroke="#2e2218" stroke-width="1"/>
<rect x="399.3" y="484.3" width="16.2" height="4.5" fill="url(#go)"/>
<path d="M399.3 488V484.3H415.5V488" fill="none" stroke="#2e2218" stroke-width="1"/>
<line x1="305.5" y1="429.1" x2="305.5" y2="489" stroke="#c4c4c4" stroke-width="1"/>
<text class="xl" style="font-size:5.45px" text-anchor="end" transform="translate(315.61 497.25) rotate(-60) scale(1.0 1)">[0.084, 0.244]</text>
<text class="xl" style="font-size:5.45px" text-anchor="end" transform="translate(331.31 497.25) rotate(-60) scale(1.0 1)">(0.244, 0.404]</text>
<text class="xl" style="font-size:5.45px" text-anchor="end" transform="translate(346.76 497.25) rotate(-60) scale(1.0 1)">(0.404, 0.564]</text>
<text class="xl" style="font-size:5.45px" text-anchor="end" transform="translate(362.31 497.25) rotate(-60) scale(1.0 1)">(0.564, 0.724]</text>
<text class="xl" style="font-size:5.45px" text-anchor="end" transform="translate(378.01 497.25) rotate(-60) scale(1.0 1)">(0.724, 0.884]</text>
<text class="xl" style="font-size:5.45px" text-anchor="end" transform="translate(393.56 497.25) rotate(-60) scale(1.0 1)">(0.884, 1.044]</text>
<text class="xl" style="font-size:5.45px" text-anchor="end" transform="translate(409.41 497.25) rotate(-60) scale(1.0 1)">(1.044, 1.204]</text>
<text class="xl" style="font-size:5.45px" text-anchor="end" transform="translate(425.71 497.25) rotate(-60) scale(1.0 1)">(1.204, 1.364]</text>
<text class="ti" x="337.3" y="537.9" textLength="62.6" lengthAdjust="spacingAndGlyphs">Shear strength (kg/cm²)</text>
<text class="fr" text-anchor="middle" transform="translate(282.51 457.6) rotate(-90)">Frequency</text>
<text class="pl plb" x="413.7" y="439.16" textLength="13.2" lengthAdjust="spacingAndGlyphs">(k)</text>
</svg>
</body></html>
